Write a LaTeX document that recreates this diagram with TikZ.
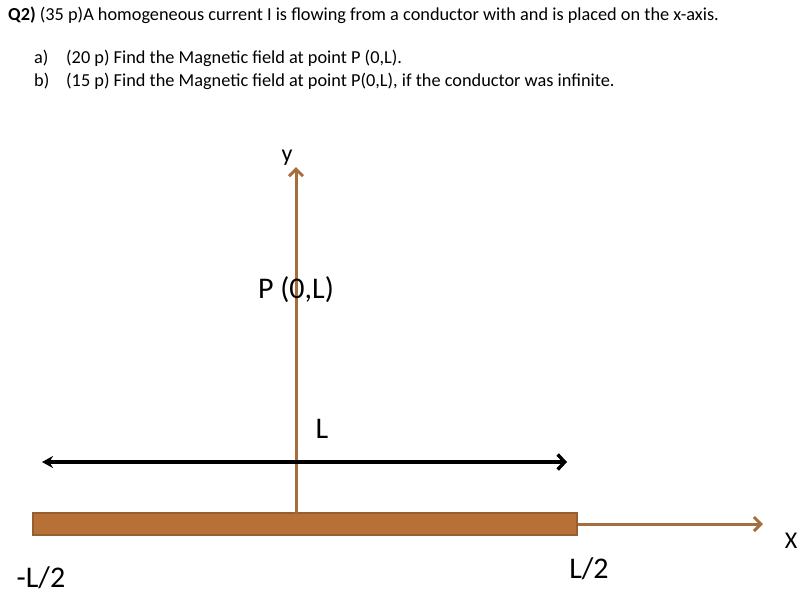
\documentclass[tikz,border=0pt]{standalone}
\usepackage{fontspec}
\setmainfont{Carlito}
\usetikzlibrary{arrows.meta}

\definecolor{copper}{RGB}{183,113,55}
\definecolor{copperline}{RGB}{150,95,50}
\definecolor{axisbrown}{RGB}{165,110,60}

\begin{document}
\begin{tikzpicture}[x=1pt,y=-1pt,
  axis/.style={axisbrown,line width=3pt,-{Straight Barb[length=7pt,width=14pt]}},
  txt/.style={anchor=base west,inner sep=0pt,font=\fontsize{18.3}{21}\selectfont},
  lbl/.style={inner sep=0pt,font=\fontsize{30}{32}\selectfont}]
\useasboundingbox (0,0) rectangle (803,598);

% question text
\node[txt] (q) at (8,20) {\textbf{Q2)} (35 p)A homogeneous current I is flowing from a conductor with and is placed on the x-axis.};
\node[txt] (qa) at (34,63) {a)};
\node[txt] (qat) at (66,63) {(20 p) Find the Magnetic field at point P (0,L).};
\node[txt] (qb) at (34,86) {b)};
\node[txt] (qbt) at (66,86) {(15 p) Find the Magnetic field at point P(0,L), if the conductor was infinite.};

% conductor
\filldraw[fill=copper,draw=copperline,line width=1.2pt] (33,513) rectangle (577,535);
\coordinate (o) at (296,513);
\coordinate (yend) at (296,167);
\coordinate (xstart) at (578,524);
\coordinate (xend) at (763,524);

% axes
\draw[axis] (o) -- (yend);
\draw[axis] (xstart) -- (xend);

% distance arrow
\coordinate (dl) at (42,462);
\coordinate (dr) at (567,462);
\draw[line width=3.4pt,{Stealth[length=11pt,width=12pt]}-{Straight Barb[length=7pt,width=15pt]}] (dl) -- (dr);

% labels
\node[lbl,font=\fontsize{24}{26}\selectfont] (ylab) at (287,158) {y};
\node[lbl] (p) at (296,290) {P (0,L)};
\node[lbl] (l) at (322,429) {L};
\node[lbl,font=\fontsize{24}{26}\selectfont] (xlab) at (791,541) {X};
\node[lbl] (lm) at (41,578) {-L/2};
\node[lbl] (lp) at (589,569) {L/2};
\end{tikzpicture}
\end{document}
